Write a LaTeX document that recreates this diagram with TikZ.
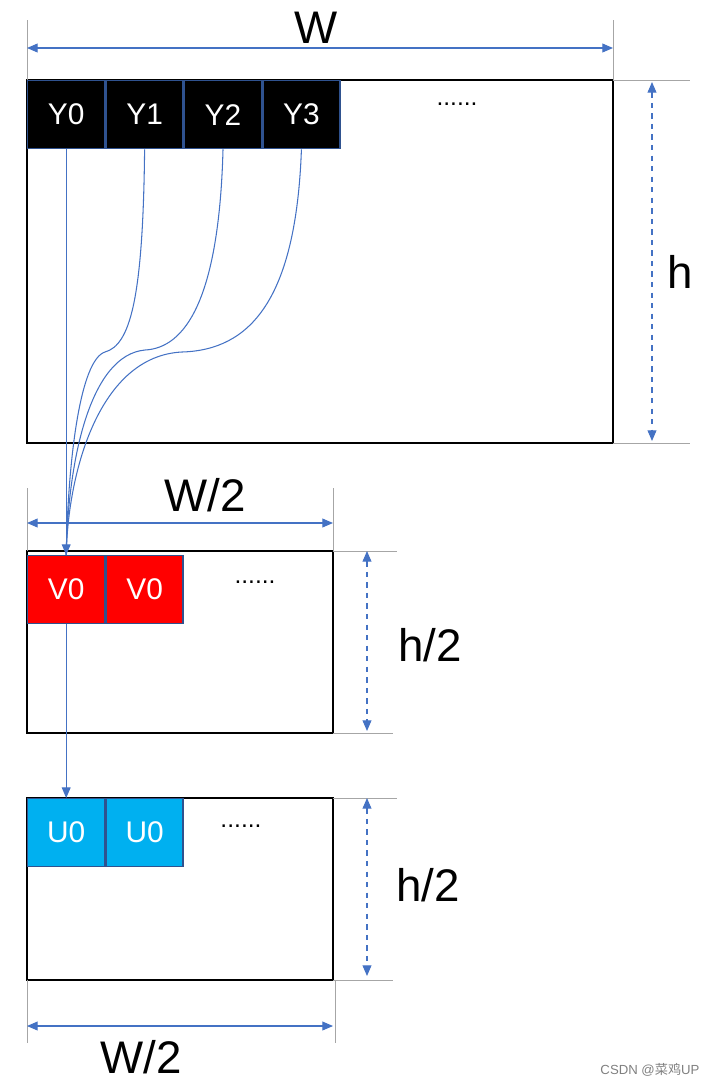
\documentclass[tikz,border=0pt]{standalone}
\usepackage{fontspec}
\setmainfont{Liberation Sans}
\newfontfamily\cjk{Noto Sans CJK SC}
\usetikzlibrary{positioning,arrows.meta}
\definecolor{cellline}{HTML}{2F528F}
\definecolor{dimblue}{HTML}{4472C4}
\definecolor{ucyan}{HTML}{00B0F0}
\tikzset{
  cell/.style={draw=cellline,line width=0.8pt,minimum width=77*0.02cm,minimum height=68*0.02cm,
    inner sep=0pt,text=white,font=\fontsize{17}{19}\selectfont},
  plane/.style={draw=black,line width=1pt},
  dim/.style={dimblue,line width=0.6pt,{Triangle[width=5pt,length=6pt]}-{Triangle[width=5pt,length=6pt]}},
  ext/.style={gray!70,line width=0.5pt},
  flow/.style={dimblue,line width=0.6pt},
  big/.style={font=\fontsize{26}{28}\selectfont},
  dots/.style={font=\fontsize{14}{16}\selectfont}
}
\begin{document}
\begin{tikzpicture}[x=0.02cm,y=-0.02cm]
  \useasboundingbox (0,0) rectangle (713,1086);
  % planes
  \draw[plane] (27,80) rectangle (613,443);
  \draw[plane] (27,551) rectangle (333,733);
  \draw[plane] (27,798) rectangle (333,980);
  % Y row
  \node[cell,fill=black,anchor=north west] (y0) at (27,80) {Y0};
  \node[cell,fill=black,right=0pt of y0] (y1) {Y1};
  \node[cell,fill=black,right=0pt of y1] (y2) {Y2};
  \node[cell,fill=black,right=0pt of y2] (y3) {Y3};
  \node[dots] (ydots) at (457,104) {......};
  % V row
  \node[cell,fill=red,anchor=north west] (v0) at (27,555) {V0};
  \node[cell,fill=red,right=0pt of v0] (v1) {V0};
  \node[dots] (vdots) at (255,582) {......};
  % U row
  \node[cell,fill=ucyan,anchor=north west] (u0) at (27,798) {U0};
  \node[cell,fill=ucyan,right=0pt of u0] (u1) {U0};
  \node[dots] (udots) at (241,826) {......};
  % sampling curves
  \draw[flow,-{Triangle[width=5pt,length=6pt]}] (y0.south) -- (v0.north);
  \draw[flow] (y1.south) .. controls (143,300) and (130,345) .. (105,352)
    .. controls (80,360) and (68,460) .. (v0.north);
  \draw[flow] (y2.south) .. controls (219,300) and (185,348) .. (145,350)
    .. controls (90,355) and (68,460) .. (v0.north);
  \draw[flow] (y3.south) .. controls (296,300) and (250,350) .. (182,352)
    .. controls (100,356) and (68,470) .. (v0.north);
  \draw[flow,-{Triangle[width=5pt,length=6pt]}] (v0.south) -- (u0.north);
  % dimensions of Y
  \draw[ext] (27,20) -- (27,80) (613,20) -- (613,80);
  \draw[dim] (27,48) -- (613,48);
  \node[big] (lw) at (316,28) {W};
  \draw[ext] (613,80) -- (690,80) (613,443) -- (690,443);
  \draw[dim,dashed] (652,82) -- (652,441);
  \node[big] (lh) at (680,272) {h};
  % dimensions of V
  \draw[ext] (27,488) -- (27,551) (333,488) -- (333,551);
  \draw[dim] (27,523) -- (333,523);
  \node[big] (lw2) at (205,495) {W/2};
  \draw[ext] (333,551) -- (397,551) (333,733) -- (393,733);
  \draw[dim,dashed] (367,551) -- (367,731);
  \node[big] (lh2) at (430,645) {h/2};
  % dimensions of U
  \draw[ext] (333,798) -- (397,798) (333,980) -- (393,980);
  \draw[dim,dashed] (367,798) -- (367,976);
  \node[big] (lh3) at (428,885) {h/2};
  \draw[ext] (27,980) -- (27,1043) (335,980) -- (335,1043);
  \draw[dim] (27,1026) -- (333,1026);
  \node[big] (lw3) at (141,1057) {W/2};
  \node[gray,font=\fontsize{7.5}{9}\selectfont] (mark) at (650,1070) {CSDN @{\cjk 菜鸡}UP};
\end{tikzpicture}
\end{document}
